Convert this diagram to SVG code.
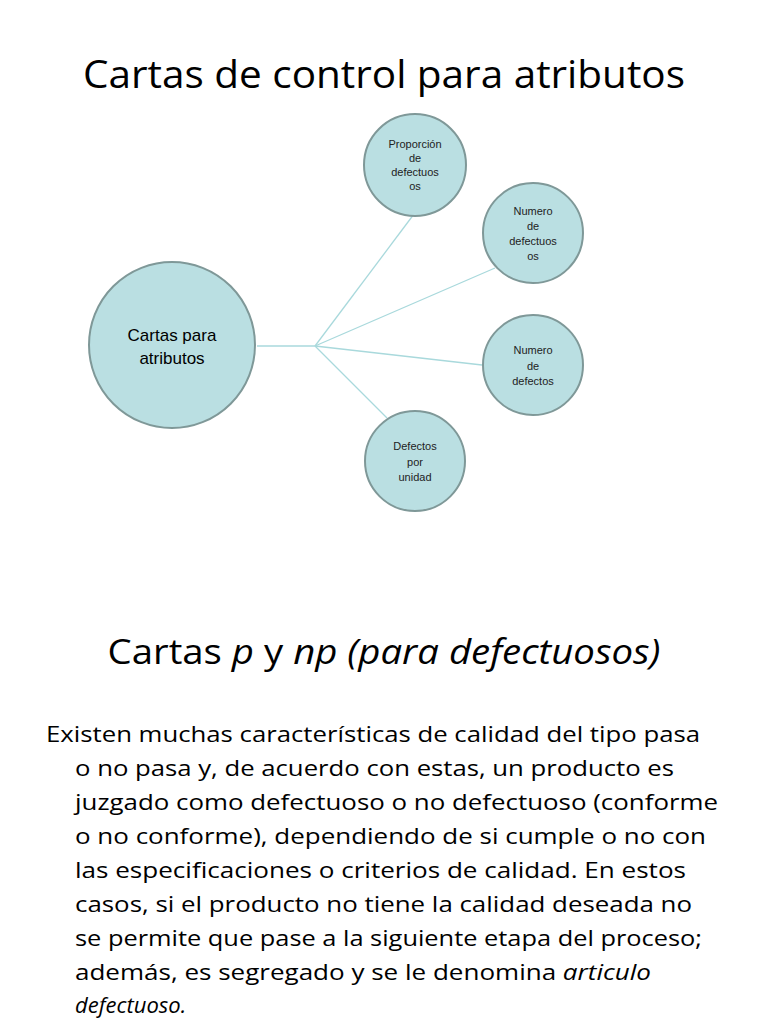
<svg xmlns="http://www.w3.org/2000/svg" width="768" height="1024" viewBox="0 0 768 1024">
<style>
.n{fill:#badfe2;stroke:#7f9898;stroke-width:2}
.c line{stroke:#a9d9dc;stroke-width:1.3}
.s{font-family:"Liberation Sans",Arial,sans-serif;font-size:11px;fill:#222;text-anchor:middle}
.m{font-family:"Liberation Sans",Arial,sans-serif;font-size:17px;fill:#000;text-anchor:middle}
.h{font-family:"Open Sans","Noto Sans",sans-serif;fill:#000;text-anchor:middle}
.b{font-family:"Open Sans","Noto Sans",sans-serif;font-size:22px;fill:#000}
</style>
<rect width="768" height="1024" fill="#fff"/>
<text class="h" x="384" y="88" font-size="39" textLength="602" lengthAdjust="spacingAndGlyphs">Cartas de control para atributos</text>
<g class="c">
<line x1="257" y1="346" x2="315" y2="346"/>
<line x1="315" y1="346" x2="414" y2="214"/>
<line x1="315" y1="346" x2="495" y2="268"/>
<line x1="315" y1="346" x2="482" y2="365"/>
<line x1="315" y1="346" x2="387" y2="418"/>
</g>
<g id="main"><circle class="n" cx="172" cy="345" r="83"/>
<text class="m" x="172" y="341">Cartas para</text><text class="m" x="172" y="364">atributos</text></g>
<g id="n1"><circle class="n" cx="415" cy="165" r="51"/>
<text class="s" x="415" y="148">Proporción</text><text class="s" x="415" y="162">de</text><text class="s" x="415" y="176">defectuos</text><text class="s" x="415" y="190">os</text></g>
<g id="n2"><circle class="n" cx="533" cy="233" r="50"/>
<text class="s" x="533" y="215">Numero</text><text class="s" x="533" y="230">de</text><text class="s" x="533" y="245">defectuos</text><text class="s" x="533" y="260">os</text></g>
<g id="n3"><circle class="n" cx="533" cy="365" r="50"/>
<text class="s" x="533" y="354">Numero</text><text class="s" x="533" y="370">de</text><text class="s" x="533" y="385">defectos</text></g>
<g id="n4"><circle class="n" cx="415" cy="461" r="50"/>
<text class="s" x="415" y="450">Defectos</text><text class="s" x="415" y="466">por</text><text class="s" x="415" y="481">unidad</text></g>
<text class="h" x="384" y="664" font-size="34" textLength="553" lengthAdjust="spacingAndGlyphs">Cartas <tspan font-style="italic">p</tspan> y <tspan font-style="italic">np (para defectuosos)</tspan></text>
<text class="b" x="46" y="742" textLength="654" lengthAdjust="spacingAndGlyphs">Existen muchas características de calidad del tipo pasa</text>
<text class="b" x="75" y="776" textLength="599" lengthAdjust="spacingAndGlyphs">o no pasa y, de acuerdo con estas, un producto es</text>
<text class="b" x="75" y="810" textLength="643" lengthAdjust="spacingAndGlyphs">juzgado como defectuoso o no defectuoso (conforme</text>
<text class="b" x="75" y="844" textLength="631" lengthAdjust="spacingAndGlyphs">o no conforme), dependiendo de si cumple o no con</text>
<text class="b" x="75" y="878" textLength="611" lengthAdjust="spacingAndGlyphs">las especificaciones o criterios de calidad. En estos</text>
<text class="b" x="75" y="912" textLength="617" lengthAdjust="spacingAndGlyphs">casos, si el producto no tiene la calidad deseada no</text>
<text class="b" x="75" y="946" textLength="627" lengthAdjust="spacingAndGlyphs">se permite que pase a la siguiente etapa del proceso;</text>
<text class="b" x="75" y="980" textLength="576" lengthAdjust="spacingAndGlyphs">además, es segregado y se le denomina <tspan font-style="italic">articulo</tspan></text>
<text class="b" x="75" y="1013" font-style="italic">defectuoso.</text>
</svg>
